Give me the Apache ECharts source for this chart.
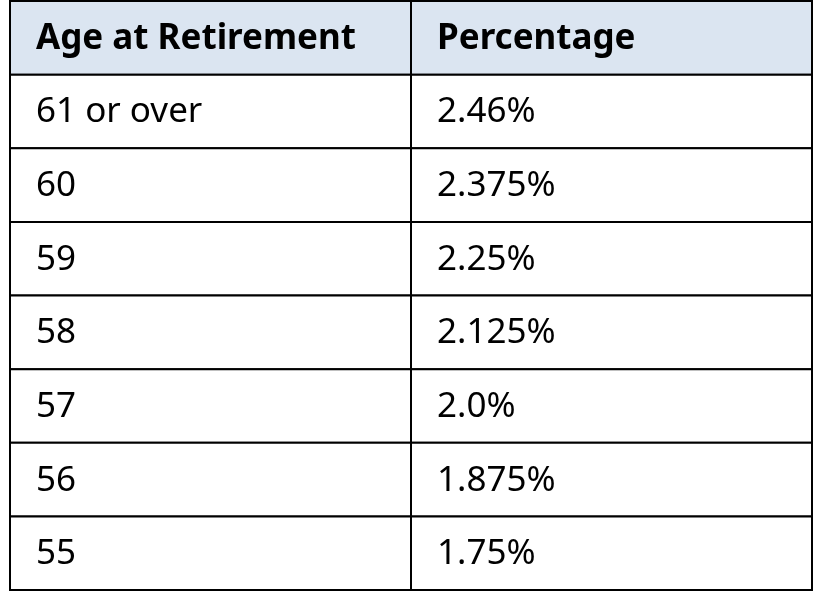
<!DOCTYPE html>
<html><head><meta charset="utf-8">
<script src="https://cdn.jsdelivr.net/npm/echarts@6/dist/echarts.min.js"></script>
<style>html,body{margin:0;padding:0;background:#fff}#c{width:822px;height:602px}</style>
</head><body><div id="c"></div>
<script>
const headers = ['Age at Retirement', 'Percentage'];
const ages = ['61 or over', '60', '59', '58', '57', '56', '55'];
const percentages = ['2.46%', '2.375%', '2.25%', '2.125%', '2.0%', '1.875%', '1.75%'];

const rows = ['h'].concat(ages.map((a, i) => 'r' + i));
const data = [];
headers.forEach((h, c) => data.push([c, 0, h, 1]));
ages.forEach((a, i) => { data.push([0, i + 1, a, 0]); data.push([1, i + 1, percentages[i], 0]); });

const chart = echarts.init(document.getElementById('c'));
chart.setOption({
  animation: false,
  grid: { left: 10, right: 10, top: 1, bottom: 12 },
  xAxis: { type: 'value', min: 0, max: 2, show: false },
  yAxis: { type: 'category', data: rows, inverse: true, show: false },
  series: [{
    type: 'custom',
    data: data,
    renderItem: function (params, api) {
      const c = api.value(0), r = api.value(1);
      const p0 = api.coord([c, r]);
      const p1 = api.coord([c + 1, r]);
      const h = api.size([0, 1])[1];
      const header = data[params.dataIndex][3] === 1;
      const y = p0[1] - h / 2;
      return {
        type: 'group',
        children: [
          { type: 'rect', shape: { x: p0[0], y: y, width: p1[0] - p0[0], height: h },
            style: { fill: header ? '#dbe5f1' : '#fff', stroke: '#000', lineWidth: 2 } },
          { type: 'text', style: { x: p0[0] + 26, y: p0[1] + 1, text: data[params.dataIndex][2],
            fill: '#000', font: (header ? 'bold ' : '') + '35px "Noto Sans"', verticalAlign: 'middle', align: 'left' } }
        ]
      };
    }
  }]
});
</script></body></html>
